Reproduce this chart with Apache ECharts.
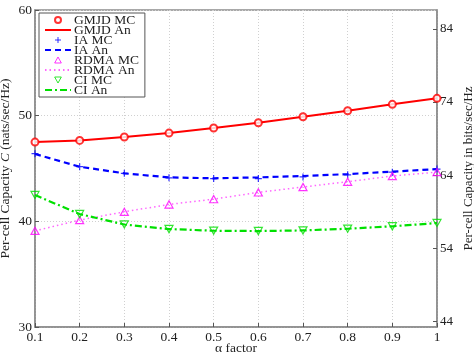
<!DOCTYPE html>
<html>
<head>
<meta charset="utf-8">
<script src="https://cdn.jsdelivr.net/npm/echarts@6/dist/echarts.min.js"></script>
<style>html,body{margin:0;padding:0;background:#fff}#c{width:474px;height:356px}</style>
</head>
<body>
<div id="c"></div>
<script>
const categories = ['0.1','0.2','0.3','0.4','0.5','0.6','0.7','0.8','0.9','1'];
const gmjdMC = [47.5, 47.66, 47.98, 48.35, 48.83, 49.33, 49.9, 50.46, 51.07, 51.64];
const gmjdAn = [47.5, 47.66, 47.98, 48.35, 48.83, 49.33, 49.9, 50.46, 51.07, 51.64];
const iaMC   = [46.4, 45.17, 44.54, 44.12, 44.05, 44.05, 44.2, 44.4, 44.65, 44.95];
const iaAn   = [46.37, 45.17, 44.54, 44.16, 44.07, 44.16, 44.29, 44.47, 44.7, 44.95];
const rdmaMC = [39.1, 40.12, 40.9, 41.6, 42.1, 42.74, 43.25, 43.75, 44.29, 44.66];
const rdmaAn = [39.1, 40.12, 40.9, 41.6, 42.1, 42.74, 43.25, 43.75, 44.29, 44.66];
const ciMC   = [42.49, 40.69, 39.7, 39.27, 39.11, 39.08, 39.14, 39.3, 39.53, 39.84];
const ciAn   = [42.49, 40.69, 39.7, 39.27, 39.11, 39.08, 39.14, 39.3, 39.53, 39.84];
const leftTicks = [30, 40, 50, 60];
const rightTicks = [44, 54, 64, 74, 84];
const legendNames = ['GMJD MC','GMJD An','IA MC','IA An','RDMA MC','RDMA An','CI MC','CI An'];
const LOG2E = Math.LOG2E;

const font = 'Liberation Serif';
const chart = echarts.init(document.getElementById('c'), null, {renderer: 'canvas'});
const plus = 'path://M5,0L5,10M0,5L10,5';
const triUp = 'path://M5,0L10,9L0,9Z';
const triDown = 'path://M0,0L10,0L5,9Z';
chart.setOption({
  animation: false,
  backgroundColor: '#fff',
  textStyle: {fontFamily: font},
  grid: {left: 35, right: 37, top: 10, bottom: 29, outerBoundsMode: 'none', containLabel: false, show: true, borderColor: '#8c8c8c', borderWidth: 1.5, backgroundColor: 'transparent'},
  legend: {
    orient: 'vertical', left: 39, top: 13,
    backgroundColor: '#fff', borderColor: '#555', borderWidth: 1,
    padding: [0, 6, 0, 5],
    itemWidth: 26, itemHeight: 6, itemGap: -4,
    symbolKeepAspect: true,
    itemStyle: {borderWidth: 1},
    textStyle: {fontFamily: font, fontSize: 13.5, color: '#222', padding: [0,0,0,-2]},
    data: legendNames.map(n => n.endsWith('An') ? {name: n, itemStyle: {opacity: 0}} : {name: n})
  },
  xAxis: {
    type: 'category', data: categories, boundaryGap: false,
    name: 'α factor', nameLocation: 'middle', nameGap: 14, nameMoveOverlap: false,
    nameTextStyle: {fontFamily: font, fontSize: 13.5, color: '#222'},
    axisLine: {lineStyle: {color: '#8c8c8c', width: 1.5}},
    axisTick: {inside: true, length: 4, lineStyle: {color: '#555'}},
    axisLabel: {fontFamily: font, fontSize: 13.5, color: '#222', margin: 3},
    splitLine: {show: true, lineStyle: {color: '#d0d0d0', type: [1, 2], width: 1}}
  },
  yAxis: [{
    type: 'value', min: 30, max: 60, interval: 10,
    name: 'Per-cell Capacity {i|C} (nats/sec/Hz)', nameLocation: 'middle', nameGap: 23, nameMoveOverlap: false,
    nameTextStyle: {fontFamily: font, fontSize: 13.5, color: '#222', rich: {i: {fontFamily: font, fontStyle: 'italic', fontSize: 13.5, color: '#222'}}},
    axisLine: {show: true, lineStyle: {color: '#8c8c8c', width: 1.5}},
    axisTick: {show: true, inside: true, length: 4, lineStyle: {color: '#555'}},
    axisLabel: {fontFamily: font, fontSize: 13.5, color: '#222', margin: 3},
    splitLine: {show: true, lineStyle: {color: '#d0d0d0', type: [1, 2], width: 1}}
  }, {
    type: 'value', position: 'right', min: 30 * LOG2E, max: 60 * LOG2E,
    name: 'Per-cell Capacity in bits/sec/Hz', nameLocation: 'middle', nameGap: 25, nameRotate: 90, nameMoveOverlap: false,
    nameTextStyle: {fontFamily: font, fontSize: 13, color: '#222'},
    axisLine: {show: true, lineStyle: {color: '#8c8c8c', width: 1.5}},
    axisTick: {show: true, inside: true, length: 4, customValues: rightTicks, lineStyle: {color: '#555'}},
    axisLabel: {fontFamily: font, fontSize: 13, color: '#222', margin: 3, customValues: rightTicks},
    splitLine: {show: false}
  }],
  series: [
    {name: 'GMJD MC', type: 'scatter', data: gmjdMC, symbol: 'emptyCircle', symbolSize: 7, z: 5, itemStyle: {color: '#ff0000', borderColor: '#ff0000', borderWidth: 1}},
    {name: 'GMJD An', type: 'line', data: gmjdAn, symbol: 'none', lineStyle: {color: '#ff0000', width: 2}, itemStyle: {color: '#ff0000'}},
    {name: 'IA MC', type: 'scatter', data: iaMC, symbol: plus, symbolSize: 7, z: 5, symbolKeepAspect: true, itemStyle: {color: 'transparent', borderColor: '#0000ff', borderWidth: 1.2}},
    {name: 'IA An', type: 'line', data: iaAn, symbol: 'none', lineStyle: {color: '#0000ff', width: 2.2, type: [6, 4]}, itemStyle: {color: '#0000ff'}},
    {name: 'RDMA MC', type: 'scatter', data: rdmaMC, symbol: triUp, symbolSize: 8, z: 5, symbolKeepAspect: true, itemStyle: {color: 'rgba(255,255,255,0)', borderColor: '#ff00ff', borderWidth: 1.2}},
    {name: 'RDMA An', type: 'line', data: rdmaAn, symbol: 'none', lineStyle: {color: '#ff66ff', width: 1.5, type: [1.5, 3]}, itemStyle: {color: '#ff66ff'}},
    {name: 'CI MC', type: 'scatter', data: ciMC, symbol: triDown, symbolSize: 8, z: 5, symbolKeepAspect: true, itemStyle: {color: 'rgba(255,255,255,0)', borderColor: '#00e000', borderWidth: 1.2}},
    {name: 'CI An', type: 'line', data: ciAn, symbol: 'none', lineStyle: {color: '#00e000', width: 2.2, type: [7, 3, 2, 3]}, itemStyle: {color: '#00e000'}}
  ]
});
</script>
</body>
</html>
